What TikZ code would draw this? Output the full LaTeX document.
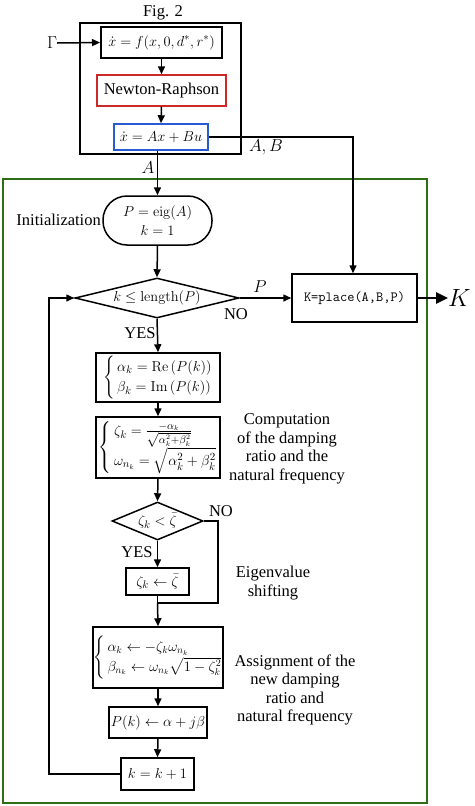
\documentclass[tikz,border=0pt]{standalone}
\usepackage{amsmath}
\usepackage[no-math]{fontspec}
\setmainfont{Liberation Serif}
\usetikzlibrary{arrows.meta,shapes.geometric,calc}
\definecolor{boxred}{RGB}{205,40,40}
\definecolor{boxblue}{RGB}{40,90,210}
\definecolor{boxgreen}{RGB}{45,110,20}
\newcommand{\lbrcases}[1]{\left\{\renewcommand{\arraystretch}{1.15}\begin{array}{@{\,}l@{}}#1\end{array}\right.}
\tikzset{
  txt/.style={font=\rmfamily\fontsize{16.5}{18.5}\selectfont, inner sep=0pt, align=center},
  mth/.style={font=\fontsize{15}{18}\selectfont},
  blk/.style={draw, line width=1.5pt, inner sep=0pt, mth, align=center},
  dia/.style={draw, diamond, line width=1.5pt, inner sep=0pt, mth},
  conn/.style={line width=1.5pt, -{Triangle[length=8pt,width=7pt]}},
  plain/.style={line width=1.5pt},
}
\begin{document}
\begin{tikzpicture}[x=1pt,y=-1pt]
\useasboundingbox (0,0) rectangle (474,806);
% frames
\draw[line width=1.1pt] (80,23) rectangle (241,154);
\draw[boxgreen, line width=2pt] (3,179) rectangle (427,803);
\node[txt] (fig) at (163,13) {Fig. 2};
% top boxes
\node[blk, line width=2pt, minimum width=121pt, minimum height=31pt] (sys) at (161.5,42.5) {$\dot{x} = f(x,0,d^{*},r^{*})$};
\node[blk, draw=boxred, minimum width=129pt, minimum height=31pt, txt] (nr) at (161.5,90.5) {Newton-Raphson};
\node[blk, draw=boxblue, minimum width=94pt, minimum height=26pt] (lin) at (161,137) {$\dot{x} = Ax + Bu$};
\node[txt, font=\fontsize{17}{19}\selectfont] (gam) at (52,43) {$\Gamma$};
% main column
\node[blk, rounded corners=24pt, minimum width=109pt, minimum height=49pt] (init) at (157.5,220.5) {$P=\mathrm{eig}(A)$\\[1pt]$k=1$};
\node[txt, anchor=east] (initl) at (101,220) {Initialization};
\node[dia, minimum width=164pt, minimum height=40pt, aspect=4.1] (d1) at (157,298) {$k\le \mathrm{length}(P)$};
\node[blk, minimum width=125pt, minimum height=48pt, font=\fontsize{14}{16}\ttfamily] (place) at (354.5,298) {K=place(A,B,P)};
\node[txt, font=\fontsize{28}{30}\selectfont, anchor=west] (kout) at (448,298) {$K$};
\node[blk, minimum width=124pt, minimum height=49pt] (reim) at (158,377.5) {$\lbrcases{\alpha_k = \mathrm{Re}\left(P(k)\right)\\ \beta_k = \mathrm{Im}\left(P(k)\right)}$};
\node[blk, minimum width=124pt, minimum height=61pt] (zeta) at (158,447.5) {$\lbrcases{\zeta_k = \frac{-\alpha_k}{\sqrt{\alpha_k^2+\beta_k^2}}\\ \omega_{n_k} = \sqrt{\alpha_k^2+\beta_k^2}}$};
\node[dia, minimum width=91pt, minimum height=38pt, aspect=2.4] (d2) at (157.5,521) {$\zeta_k<\bar{\zeta}$};
\node[blk, minimum width=63pt, minimum height=27pt] (shift) at (157.5,581.5) {$\zeta_k\leftarrow\bar{\zeta}$};
\node[blk, minimum width=130pt, minimum height=61pt, font=\fontsize{14}{17}\selectfont] (assign) at (158,657.5) {$\lbrcases{\alpha_k \leftarrow -\zeta_k\omega_{n_k}\\ \beta_{n_k} \leftarrow \omega_{n_k}\sqrt{1-\zeta_k^2}}$};
\node[blk, minimum width=98pt, minimum height=31pt] (pk) at (158,722.5) {$P(k)\leftarrow\alpha+j\beta$};
\node[blk, minimum width=73pt, minimum height=32pt] (kk) at (157.5,774) {$k=k+1$};
% side notes
\node[txt] (n1) at (287,449) {Computation\\of the damping\\ratio and the\\natural frequency};
\node[txt] (n2) at (273,583) {Eigenvalue\\shifting};
\node[txt] (n3) at (295,690) {Assignment of the\\new damping\\ratio and\\natural frequency};
% labels
\node[txt, font=\fontsize{17}{19}\selectfont] (lab) at (266,147) {$A,B$};
\node[txt, font=\fontsize{17}{19}\selectfont] (la) at (148,168) {$A$};
\node[txt, font=\fontsize{17}{19}\selectfont] (lp) at (260,287) {$P$};
\node[txt] (no1) at (236,314) {NO};
\node[txt] (yes1) at (140,333) {YES};
\node[txt] (no2) at (221,511) {NO};
\node[txt] (yes2) at (137,552) {YES};
% coordinates
\coordinate (jn) at (157.5,603);
\coordinate (nocorner) at (218,521);
\coordinate (loopb) at (49,774);
\coordinate (loopt) at (49,298);
% connectors
\draw[conn] (gam.east) -- (sys.west);
\draw[conn] (sys.south) -- (nr.north);
\draw[conn] (nr.south) -- (lin.north);
\draw[conn] (lin.east) -| (place.north -| 353,0);
\draw[conn] (lin.south -| init.north) -- (init.north);
\draw[conn] (init.south) -- (d1.north);
\draw[conn] (d1.east) -- (place.west);
\draw[conn] (d1.south) -- (reim.north);
\draw[conn] (reim.south) -- (zeta.north);
\draw[conn] (zeta.south) -- (d2.north);
\draw[conn] (d2.south) -- (shift.north);
\draw[plain] (d2.east) -- (nocorner) |- (jn);
\draw[plain] (shift.south) -- (jn);
\draw[conn] (jn) -- (assign.north);
\draw[conn] (assign.south) -- (pk.north);
\draw[conn] (pk.south) -- (kk.north);
\draw[conn] (kk.west) -- (loopb) -- (loopt) -- (d1.west);
\draw[line width=2.5pt, -{Triangle[length=12pt,width=11pt]}] (place.east) -- (kout.west);
\end{tikzpicture}
\end{document}
